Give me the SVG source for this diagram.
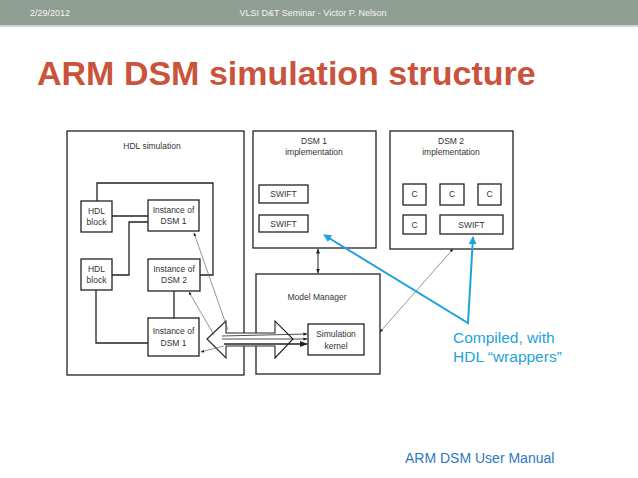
<svg xmlns="http://www.w3.org/2000/svg" width="638" height="478" viewBox="0 0 638 478">
<defs>
<style>
.bx{fill:#fff;stroke:#222;stroke-width:1.3}
.ln{fill:none;stroke:#222;stroke-width:1.3}
.th{fill:none;stroke:#666;stroke-width:0.7}
.t{font-family:"Liberation Sans",Arial,sans-serif;font-size:8.5px;fill:#333;text-anchor:middle}
.hd{font-family:"Liberation Sans",Arial,sans-serif;font-size:9px;fill:#f4f4f4}
.bl{fill:none;stroke:#1ea3dc;stroke-width:2}
</style>
<marker id="ah" viewBox="0 0 10 10" refX="9" refY="5" markerWidth="5" markerHeight="5" orient="auto-start-reverse"><path d="M0,1 L10,5 L0,9 z" fill="#222"/></marker>
<marker id="ab" viewBox="0 0 10 10" refX="9" refY="5" markerWidth="4" markerHeight="4" orient="auto-start-reverse"><path d="M0,0 L10,5 L0,10 z" fill="#1ea3dc"/></marker>
</defs>
<rect width="638" height="478" fill="#fff"/>
<rect x="0" y="0" width="638" height="25" fill="#8e9e92"/>
<rect x="0" y="25" width="638" height="2" fill="#cfd6d0"/>
<text class="hd" x="30" y="16">2/29/2012</text>
<text class="hd" x="313" y="16" text-anchor="middle">VLSI D&amp;T Seminar - Victor P. Nelson</text>
<text x="37" y="85" font-family="Liberation Sans,Arial,sans-serif" font-weight="bold" font-size="34" fill="#c9533b">ARM DSM simulation structure</text>

<g id="connectors">
<polyline class="ln" points="97,201 97,183 213,183 213,275 200,275"/>
<line class="ln" x1="112" y1="216" x2="148" y2="216"/>
<polyline class="ln" points="148,222 129,222 129,275 112,275"/>
<line class="ln" x1="174" y1="291" x2="174" y2="318"/>
<polyline class="ln" points="96,290 96,343 148,343"/>
<line x1="318" y1="249" x2="318" y2="273" stroke="#222" stroke-width="1" marker-start="url(#ah)" marker-end="url(#ah)"/>
<line class="th" x1="380" y1="332" x2="453" y2="249" marker-start="url(#ah)" marker-end="url(#ah)"/>
</g>

<g id="hdl-sim"><rect class="bx" x="67" y="131" width="177" height="244" fill="none" style="fill:none"/><text class="t" x="152" y="149">HDL simulation</text></g>
<g id="hdl-block-1"><rect class="bx" x="81" y="201" width="31" height="31"/><text class="t" x="96.5" y="214">HDL</text><text class="t" x="96.5" y="225">block</text></g>
<g id="hdl-block-2"><rect class="bx" x="81" y="259" width="31" height="31"/><text class="t" x="96.5" y="272">HDL</text><text class="t" x="96.5" y="283">block</text></g>
<g id="inst-dsm1-a"><rect class="bx" x="148" y="200" width="51" height="31"/><text class="t" x="173.5" y="213">Instance of</text><text class="t" x="173.5" y="224">DSM  1</text></g>
<g id="inst-dsm2"><rect class="bx" x="148" y="259" width="52" height="32"/><text class="t" x="174" y="272">Instance of</text><text class="t" x="174" y="283">DSM  2</text></g>
<g id="inst-dsm1-b"><rect class="bx" x="148" y="318" width="51" height="38"/><text class="t" x="173.5" y="334">Instance of</text><text class="t" x="173.5" y="346">DSM  1</text></g>

<g id="dsm1-impl"><rect class="bx" x="253" y="131" width="123" height="117"/><text class="t" x="314" y="144">DSM 1</text><text class="t" x="314" y="155">implementation</text>
<rect class="bx" x="259" y="185" width="49" height="18"/><text class="t" x="283.5" y="197">SWIFT</text>
<rect class="bx" x="259" y="215" width="49" height="17"/><text class="t" x="283.5" y="227">SWIFT</text></g>

<g id="dsm2-impl"><rect class="bx" x="390" y="131" width="123" height="118"/><text class="t" x="451" y="144">DSM 2</text><text class="t" x="451" y="155">implementation</text>
<rect class="bx" x="403" y="184" width="23" height="21"/><text class="t" x="414.5" y="197">C</text>
<rect class="bx" x="440" y="184" width="24" height="21"/><text class="t" x="452" y="197">C</text>
<rect class="bx" x="478" y="184" width="23" height="21"/><text class="t" x="489.5" y="197">C</text>
<rect class="bx" x="403" y="215" width="23" height="19"/><text class="t" x="414.5" y="228">C</text>
<rect class="bx" x="440" y="215" width="63" height="19"/><text class="t" x="471.5" y="228">SWIFT</text></g>

<g id="model-manager"><rect class="bx" x="256" y="274" width="124" height="100"/><text class="t" x="317" y="300">Model Manager</text>
<rect class="bx" x="308" y="324" width="56" height="31"/><text class="t" x="336" y="337">Simulation</text><text class="t" x="336" y="349">kernel</text></g>

<g id="bus-arrow">
<polygon points="207,339 226,321 226,333 275,333 275,321 293,339 275,358 275,346 226,346 226,358" fill="#fff" stroke="#222" stroke-width="1.1"/>
<line x1="222" y1="336" x2="307" y2="334" stroke="#222" stroke-width="0.8" marker-end="url(#ah)"/>
<line x1="222" y1="339" x2="307" y2="339" stroke="#222" stroke-width="0.8" marker-end="url(#ah)"/>
<line x1="224" y1="344" x2="307" y2="344" stroke="#222" stroke-width="1.6" marker-end="url(#ah)"/>
</g>
<g id="thin-links">
<line class="th" x1="228" y1="330" x2="194" y2="233" marker-end="url(#ah)"/>
<line class="th" x1="214" y1="335" x2="189" y2="292" marker-end="url(#ah)"/>
<line class="th" x1="224" y1="346" x2="201" y2="352" marker-end="url(#ah)"/>
</g>

<g id="callout">
<polyline class="bl" points="324,235 468,323 473,237" marker-start="url(#ab)" marker-end="url(#ab)"/>
<text x="453" y="343" font-family="Liberation Sans,Arial,sans-serif" font-size="15.5" fill="#1ea3dc">Compiled, with</text>
<text x="453" y="362" font-family="Liberation Sans,Arial,sans-serif" font-size="15.5" fill="#1ea3dc">HDL “wrappers”</text>
</g>
<text x="405" y="463" font-family="Liberation Sans,Arial,sans-serif" font-size="14" fill="#2d78c2">ARM DSM User Manual</text>
</svg>
